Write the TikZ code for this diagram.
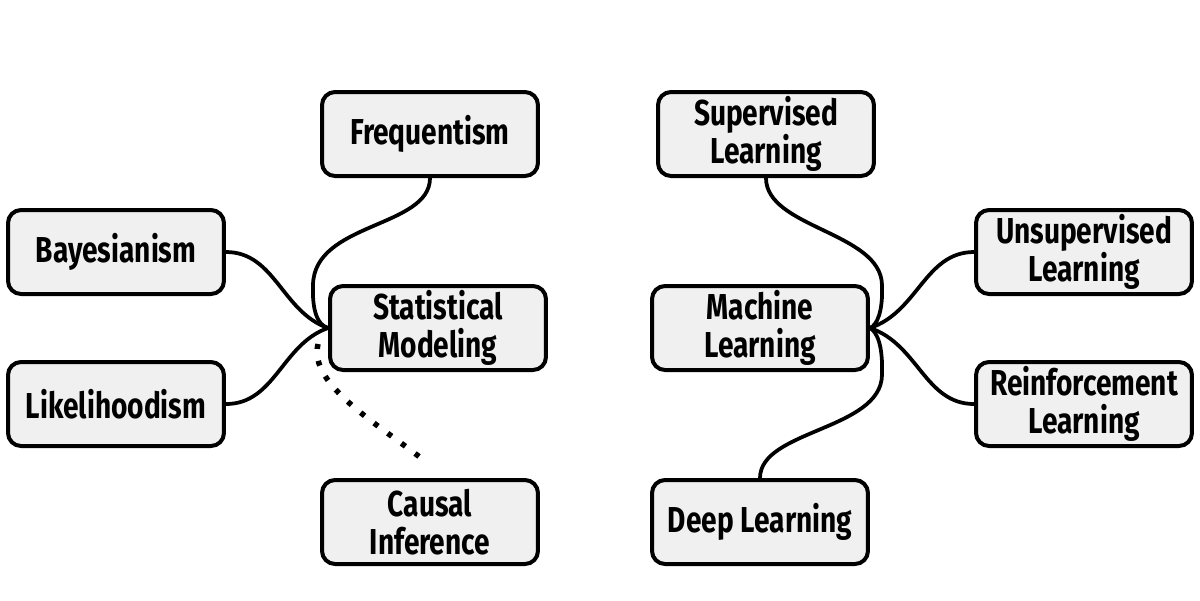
\documentclass[tikz,border=0pt]{standalone}
\usepackage{fontspec}
\setmainfont{Fira Sans}[FakeStretch=0.78,UprightFont={* Bold},BoldFont={* Bold}]
\begin{document}
\begin{tikzpicture}[x=0.02cm,y=-0.02cm,
  box/.style={draw=black,fill=gray!12,line width=0.08cm,rounded corners=0.26cm,
    minimum width=4.32cm,minimum height=1.68cm,align=center,
    font=\fontsize{20.5}{22}\selectfont,inner sep=0pt},
  link/.style={draw=black,line width=0.075cm,line cap=round},
  dots/.style={draw=black,line width=0.11cm,dash pattern=on 0.1cm off 0.24cm}]
\useasboundingbox[fill=white] (0,0) rectangle (1200,600);
\node[box] (F) at (430,134) {Frequentism};
\node[box] (B) at (116,252) {Bayesianism};
\node[box] (S) at (438,328) {Statistical\\Modeling};
\node[box] (L) at (116,404) {Likelihoodism};
\node[box] (C) at (430,522) {Causal\\Inference};
\node[box] (SL) at (766,134) {Supervised\\Learning};
\node[box] (M) at (760,328) {Machine\\Learning};
\node[box] (U) at (1084,252) {Unsupervised\\Learning};
\node[box] (R) at (1084,404) {Reinforcement\\Learning};
\node[box] (D) at (760,522) {Deep Learning};
\coordinate (ds) at (318,344);
\coordinate (de) at (426,462);
\draw[link] (F.south) .. controls (430,228) and (314,222) .. (313,285) .. controls (312,312) and (318,325) .. (S.west);
\draw[link] (B.east) .. controls (275,252) and (282,312) .. (S.west);
\draw[link] (L.east) .. controls (275,404) and (282,344) .. (S.west);
\draw[dots] (ds) .. controls (308,385) and (380,425) .. (de);
\draw[link] (SL.south) .. controls (766,228) and (881,232) .. (882,285) .. controls (883,312) and (877,325) .. (M.east);
\draw[link] (U.west) .. controls (925,252) and (918,312) .. (M.east);
\draw[link] (R.west) .. controls (925,404) and (918,344) .. (M.east);
\draw[link] (D.north) .. controls (760,430) and (881,430) .. (882,375) .. controls (883,345) and (877,332) .. (M.east);
\end{tikzpicture}
\end{document}
